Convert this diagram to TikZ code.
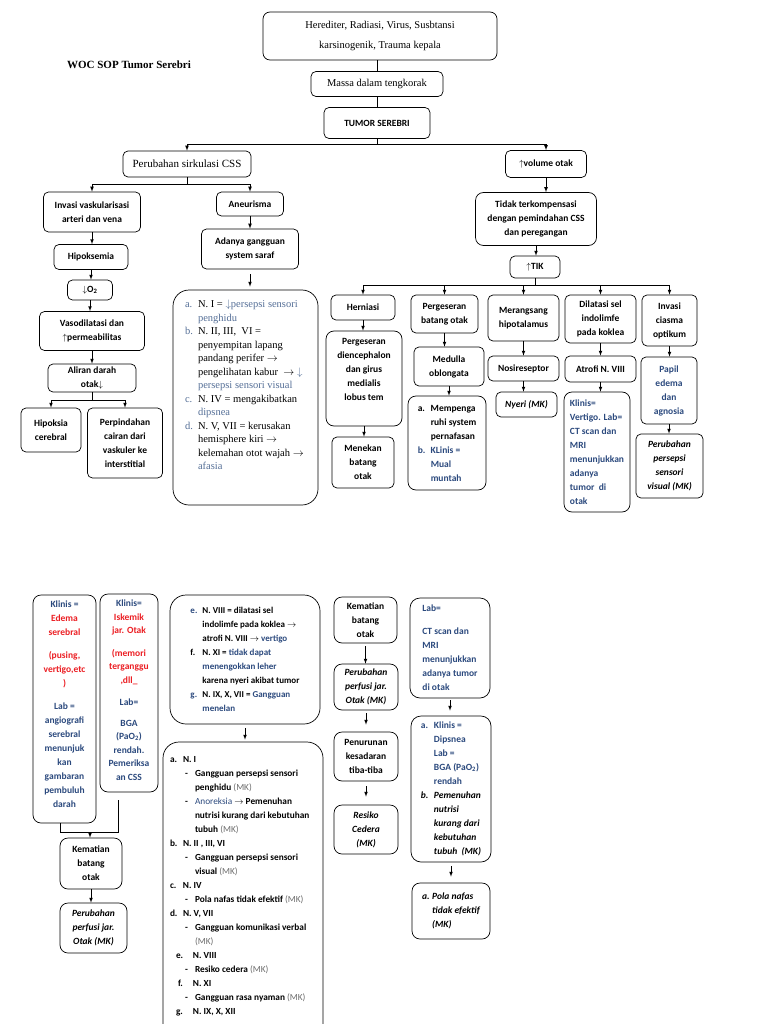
\documentclass[tikz,border=0pt]{standalone}
\usepackage{fontspec}
\setmainfont{Liberation Serif}
\setsansfont{Carlito}
\definecolor{biru}{RGB}{43,73,125}
\definecolor{birumuda}{RGB}{84,110,150}
\definecolor{merah}{RGB}{235,30,35}
\definecolor{abu}{RGB}{110,110,110}
\newcommand{\labe}[2][13pt]{\makebox[#1][l]{#2}}
\newcommand{\geser}[1][13pt]{\hspace*{#1}}
\newcommand{\atas}[3]{\parbox[c][#1][t]{#2}{#3}}
\begin{document}
\begin{tikzpicture}[x=1pt,y=-1pt,>=latex,line width=.7pt,
  kotak/.style={draw,rounded corners=5pt,align=center,inner sep=2pt,font=\sffamily\bfseries\fontsize{9.5}{14}\selectfont},
  serif/.style={draw,rounded corners=5pt,align=center,inner sep=2pt,font=\rmfamily\fontsize{10.5}{13.5}\selectfont},
  hasil/.style={kotak,font=\sffamily\bfseries\itshape\fontsize{9.5}{14}\selectfont},
  ukuran/.style 2 args={minimum width=#1pt,minimum height=#2pt}]
\useasboundingbox (0,0) rectangle (768,1024);
% bagian atas
\node[serif,ukuran={234}{48},rounded corners=7pt,font=\rmfamily\fontsize{10.5}{20}\selectfont] (sebab) at (380,36) {Herediter, Radiasi, Virus, Susbtansi\\karsinogenik, Trauma kepala};
\node[font=\rmfamily\bfseries\fontsize{11}{13}\selectfont] (judul) at (129,65) {WOC SOP Tumor Serebri};
\node[serif,ukuran={132}{25}] (massa) at (377,84) {Massa dalam tengkorak};
\node[kotak,ukuran={106}{31},font=\sffamily\bfseries\fontsize{9.5}{10}\selectfont] (tumor) at (377,123) {TUMOR SEREBRI};
\node[serif,ukuran={128}{26},font=\rmfamily\fontsize{11}{13}\selectfont] (css) at (187,164) {Perubahan sirkulasi CSS};
\node[kotak,ukuran={81}{27}] (volume) at (546,164) {$\uparrow$volume otak};
% cabang kiri
\node[kotak,ukuran={97}{40}] (invasi) at (92,212) {Invasi vaskularisasi\\arteri dan vena};
\node[kotak,ukuran={67}{24}] (aneurisma) at (250,204) {Aneurisma};
\node[kotak,ukuran={97}{40}] (gangguan) at (250,249) {Adanya gangguan\\system saraf};
\node[kotak,ukuran={74}{25}] (hipoksemia) at (91,257) {Hipoksemia};
\node[kotak,ukuran={45}{20}] (oksigen) at (90,290) {$\downarrow$O\textsubscript{2}};
\node[kotak,ukuran={105}{39}] (vaso) at (92,331) {Vasodilatasi dan\\$\uparrow$permeabilitas};
\node[kotak,ukuran={88}{28}] (aliran) at (92,378) {Aliran darah\\otak$\downarrow$};
\node[kotak,ukuran={60}{44}] (hipoksia) at (51,430) {Hipoksia\\cerebral};
\node[kotak,ukuran={75}{70}] (pindah) at (125,443) {Perpindahan\\cairan dari\\vaskuler ke\\interstitial};
\node[serif,ukuran={145}{215},rounded corners=16pt,inner sep=0pt] (saraf) at (245.5,397.5) {\atas{195pt}{133pt}{\raggedright\leftskip=6pt
\labe{\textcolor{birumuda}{a.}}N. I = \textcolor{birumuda}{$\downarrow$persepsi sensori}\\
\geser\textcolor{birumuda}{penghidu}\\
\labe{\textcolor{birumuda}{b.}}N. II, III,\ \ VI =\\
\geser penyempitan lapang\\
\geser pandang perifer $\rightarrow$\\
\geser pengelihatan kabur \ $\rightarrow$ \textcolor{birumuda}{$\downarrow$}\\
\geser\textcolor{birumuda}{persepsi sensori visual}\\
\labe{\textcolor{birumuda}{c.}}N. IV = mengakibatkan\\
\geser\textcolor{birumuda}{dipsnea}\\
\labe{\textcolor{birumuda}{d.}}N. V, VII = kerusakan\\
\geser hemisphere kiri $\rightarrow$\\
\geser kelemahan otot wajah $\rightarrow$\\
\geser\textcolor{birumuda}{afasia}}};
% cabang kanan
\node[kotak,ukuran={121}{53},rounded corners=8pt] (tidak) at (536,219) {Tidak terkompensasi\\dengan pemindahan CSS\\dan peregangan};
\node[kotak,ukuran={50}{22}] (tik) at (535,267) {$\uparrow$TIK};
\node[kotak,ukuran={64}{25}] (herniasi) at (363,307.5) {Herniasi};
\node[kotak,ukuran={67}{38}] (geserbatang) at (444.5,314) {Pergeseran\\batang otak};
\node[kotak,ukuran={71}{46}] (hipotalamus) at (523.5,318) {Merangsang\\hipotalamus};
\node[kotak,ukuran={71}{48}] (dilatasi) at (600.5,319) {Dilatasi sel\\indolimfe\\pada koklea};
\node[kotak,ukuran={55}{51}] (kiasma) at (669.5,320.5) {Invasi\\ciasma\\optikum};
\node[kotak,ukuran={76}{95},rounded corners=8pt,inner sep=0pt] (diencephalon) at (364,378.5) {\atas{80pt}{74pt}{\centering Pergeseran\\diencephalon\\dan girus\\medialis\\lobus tem}};
\node[kotak,ukuran={62}{51}] (menekan) at (363,462.5) {Menekan\\batang\\otak};
\node[kotak,ukuran={70}{39}] (medulla) at (449,366.5) {Medulla\\oblongata};
\node[kotak,ukuran={78}{94},rounded corners=8pt,align=left] (pernafasan) at (447,443) {\labe{a.}Mempenga\\\geser ruhi system\\\geser pernafasan\\\textcolor{biru}{\labe{b.}KLinis =}\\\geser\textcolor{biru}{Mual}\\\geser\textcolor{biru}{muntah}};
\node[kotak,ukuran={71}{25}] (nosi) at (523.5,368.5) {Nosireseptor};
\node[hasil,ukuran={61}{25}] (nyeri) at (526.5,404.5) {Nyeri (MK)};
\node[kotak,ukuran={71}{26}] (atrofi) at (600.5,369) {Atrofi N. VIII};
\node[kotak,ukuran={66}{120},rounded corners=8pt,align=left,text=biru] (vertigo) at (597,452) {Klinis=\\Vertigo. Lab=\\CT scan dan\\MRI\\menunjukkan\\adanya\\tumor\ \ di\\otak};
\node[kotak,ukuran={56}{67},text=biru] (papil) at (669,390.5) {Papil\\edema\\dan\\agnosia};
\node[hasil,ukuran={67}{64}] (persepsi) at (669.5,466) {Perubahan\\persepsi\\sensori\\visual (MK)};
% bagian bawah
\node[kotak,ukuran={63}{228},rounded corners=8pt,inner sep=0pt] (edema) at (64.5,709) {\atas{216pt}{60pt}{\centering
\color{biru}Klinis =\\
\color{merah}Edema\\serebral\\[9pt]
(pusing,\\vertigo,etc\\)\\[9pt]
\color{biru}Lab =\\angiografi\\serebral\\menunjuk\\kan\\gambaran\\pembuluh\\darah}};
\node[kotak,ukuran={58}{198},rounded corners=8pt,inner sep=0pt] (iskemik) at (129,693) {\atas{186pt}{56pt}{\centering\fontsize{9.5}{13.5}\selectfont
\color{biru}Klinis=\\
\color{merah}Iskemik\\jar. Otak\\[9pt]
(memori\\terganggu\\,dll\_\\[9pt]
\color{biru}Lab=\\[7pt]BGA\\(PaO\textsubscript{2})\\rendah.\\Pemeriksa\\an CSS}};
\node[kotak,ukuran={62}{51},rounded corners=8pt] (matibatang) at (91,863.5) {Kematian\\batang\\otak};
\node[hasil,ukuran={67}{50},rounded corners=8pt] (perfusi) at (93.5,928) {Perubahan\\perfusi jar.\\Otak (MK)};
\node[kotak,ukuran={150}{129},rounded corners=16pt,align=left,font=\sffamily\bfseries\fontsize{9}{14}\selectfont] (saraf2) at (245,659.5) {\textcolor{biru}{\labe[12pt]{e.}}N. VIII = dilatasi sel\\
\geser[12pt]indolimfe pada koklea $\rightarrow$\\
\geser[12pt]atrofi N. VIII $\rightarrow$ \textcolor{biru}{vertigo}\\
\labe[12pt]{f.}N. XI = \textcolor{biru}{tidak dapat}\\
\geser[12pt]\textcolor{biru}{menengokkan leher}\\
\geser[12pt]karena nyeri akibat tumor\\
\textcolor{biru}{\labe[12pt]{g.}}N. IX, X, VII = \textcolor{biru}{Gangguan}\\
\geser[12pt]\textcolor{biru}{menelan}};
\node[kotak,ukuran={160}{328},rounded corners=16pt,inner sep=0pt,font=\sffamily\bfseries\fontsize{9.3}{14}\selectfont] (daftar) at (243,906) {\atas{300pt}{160pt}{\raggedright\leftskip=7pt
\labe{a.}N. I\\
\geser[15pt]\labe[10pt]{-}Gangguan persepsi sensori\\
\geser[25pt]penghidu {\mdseries\color{abu}(MK)}\\
\geser[15pt]\labe[10pt]{-}{\mdseries\color{biru}Anoreksia} $\rightarrow$ Pemenuhan\\
\geser[25pt]nutrisi kurang dari kebutuhan\\
\geser[25pt]tubuh {\mdseries\color{abu}(MK)}\\
\labe{b.}N. II , III, VI\\
\geser[15pt]\labe[10pt]{-}Gangguan persepsi sensori\\
\geser[25pt]visual {\mdseries\color{abu}(MK)}\\
\labe{c.}N. IV\\
\geser[15pt]\labe[10pt]{-}Pola nafas tidak efektif {\mdseries\color{abu}(MK)}\\
\labe{d.}N. V, VII\\
\geser[15pt]\labe[10pt]{-}Gangguan komunikasi verbal\\
\geser[25pt]{\mdseries\color{abu}(MK)}\\
\labe[23pt]{\hspace*{6pt}e.}N. VIII\\
\geser[15pt]\labe[10pt]{-}Resiko cedera {\mdseries\color{abu}(MK)}\\
\labe[23pt]{\hspace*{8pt}f.}N. XI\\
\geser[15pt]\labe[10pt]{-}Gangguan rasa nyaman {\mdseries\color{abu}(MK)}\\
\labe[23pt]{\hspace*{6pt}g.}N. IX, X, XII}};
\node[kotak,ukuran={63}{46},rounded corners=8pt] (matibatang2) at (365.5,620) {Kematian\\batang\\otak};
\node[hasil,ukuran={64}{46},rounded corners=8pt] (perfusi2) at (366,687) {Perubahan\\perfusi jar.\\Otak (MK)};
\node[kotak,ukuran={64}{49},rounded corners=8pt] (kesadaran) at (366,756.5) {Penurunan\\kesadaran\\tiba-tiba};
\node[hasil,ukuran={64}{49},rounded corners=8pt] (cedera) at (366,829.5) {Resiko\\Cedera\\(MK)};
\node[kotak,ukuran={80}{100},rounded corners=10pt,align=left,text=biru] (lab) at (450,648) {Lab=\\[9pt]CT scan dan\\MRI\\menunjukkan\\adanya tumor\\di otak};
\node[kotak,ukuran={80}{146},rounded corners=10pt,align=left] (dipsnea) at (451,789) {\textcolor{biru}{\labe{a.}Klinis =}\\\geser\textcolor{biru}{Dipsnea}\\\geser\textcolor{biru}{Lab =}\\\geser\textcolor{biru}{BGA (PaO\textsubscript{2})}\\\geser\textcolor{biru}{rendah}\\\textit{\labe{b.}Pemenuhan}\\\geser\textit{nutrisi}\\\geser\textit{kurang dari}\\\geser\textit{kebutuhan}\\\geser\textit{tubuh\ \ (MK)}};
\node[hasil,ukuran={78}{56},rounded corners=8pt,align=left] (polanafas) at (451,911) {\labe[10pt]{a.}Pola nafas\\\geser[10pt]tidak efektif\\\geser[10pt](MK)};
% garis penghubung
\draw (massa.north) -- (massa.north |- sebab.south);
\draw (tumor.north) -- (tumor.north |- massa.south);
\draw (tumor.south) -- ++(0,6) coordinate (cabang1);
\draw[->] (cabang1) -| (css.north);
\draw[->] (cabang1) -| (volume.north);
\draw (css.south) -- ++(0,7) coordinate (cabang2);
\draw[->] (cabang2) -| (invasi.north);
\draw[->] (cabang2) -| (aneurisma.north);
\draw[->] (invasi.south) -- (invasi.south |- hipoksemia.north);
\draw[->] (hipoksemia.south) -- (hipoksemia.south |- oksigen.north);
\draw[->] (oksigen.south) -- (oksigen.south |- vaso.north);
\draw[->] (vaso.south) -- (vaso.south |- aliran.north);
\draw (aliran.south) -- ++(0,8) coordinate (cabang3);
\draw[->] (cabang3) -| (hipoksia.north);
\draw[->] (cabang3) -| (pindah.north);
\draw[->] (aneurisma.south) -- (aneurisma.south |- gangguan.north);
\draw[->,shorten <=5pt,shorten >=3pt] (gangguan.south) -- (gangguan.south |- saraf.north);
\draw[->] (volume.south) -- (volume.south |- tidak.north);
\draw[->] (tidak.south) -- (tidak.south |- tik.north);
\draw (tik.south) -- ++(0,7) coordinate (cabang4);
\draw[->] (cabang4) -| (herniasi.north);
\draw[->] (cabang4) -| (geserbatang.north);
\draw[->] (cabang4) -| (hipotalamus.north);
\draw[->] (cabang4) -| (dilatasi.north);
\draw[->] (cabang4) -| (kiasma.north);
\draw[->] (herniasi.south) -- (herniasi.south |- diencephalon.north);
\draw[->] (diencephalon.south) -- (diencephalon.south |- menekan.north);
\draw[->] (geserbatang.south) -- (geserbatang.south |- medulla.north);
\draw[->] (medulla.south) -- (medulla.south |- pernafasan.north);
\draw[->] (hipotalamus.south) -- (hipotalamus.south |- nosi.north);
\draw[->] (nosi.south) -- (nosi.south |- nyeri.north);
\draw[->] (dilatasi.south) -- (dilatasi.south |- atrofi.north);
\draw[->] (atrofi.south) -- (atrofi.south |- vertigo.north);
\draw[->] (kiasma.south) -- (kiasma.south |- papil.north);
\draw[->] (papil.south) -- (papil.south |- persepsi.north);
\coordinate (gabung) at (90,832);
\draw ([xshift=-4.5pt]edema.south) |- (gabung);
\draw ([xshift=-11pt,yshift=-8pt]iskemik.south) |- (gabung);
\draw[->] (gabung) -- (gabung |- matibatang.north);
\draw[->] (matibatang.south) -- (matibatang.south |- perfusi.north);
\draw[->,shorten <=4pt,shorten >=2pt] (saraf2.south) -- (saraf2.south |- daftar.north);
\draw[->,shorten <=3pt] (matibatang2.south) -- (matibatang2.south |- perfusi2.north);
\draw[->,shorten <=3pt,shorten >=7pt] (perfusi2.south) -- (perfusi2.south |- kesadaran.north);
\draw[->,shorten <=5pt,shorten >=8pt] (kesadaran.south) -- (kesadaran.south |- cedera.north);
\draw[->,shorten <=2pt,shorten >=5pt] (lab.south) -- (lab.south |- dipsnea.north);
\draw[->,shorten <=4pt,shorten >=6pt] (dipsnea.south) -- (dipsnea.south |- polanafas.north);
\end{tikzpicture}
\end{document}
